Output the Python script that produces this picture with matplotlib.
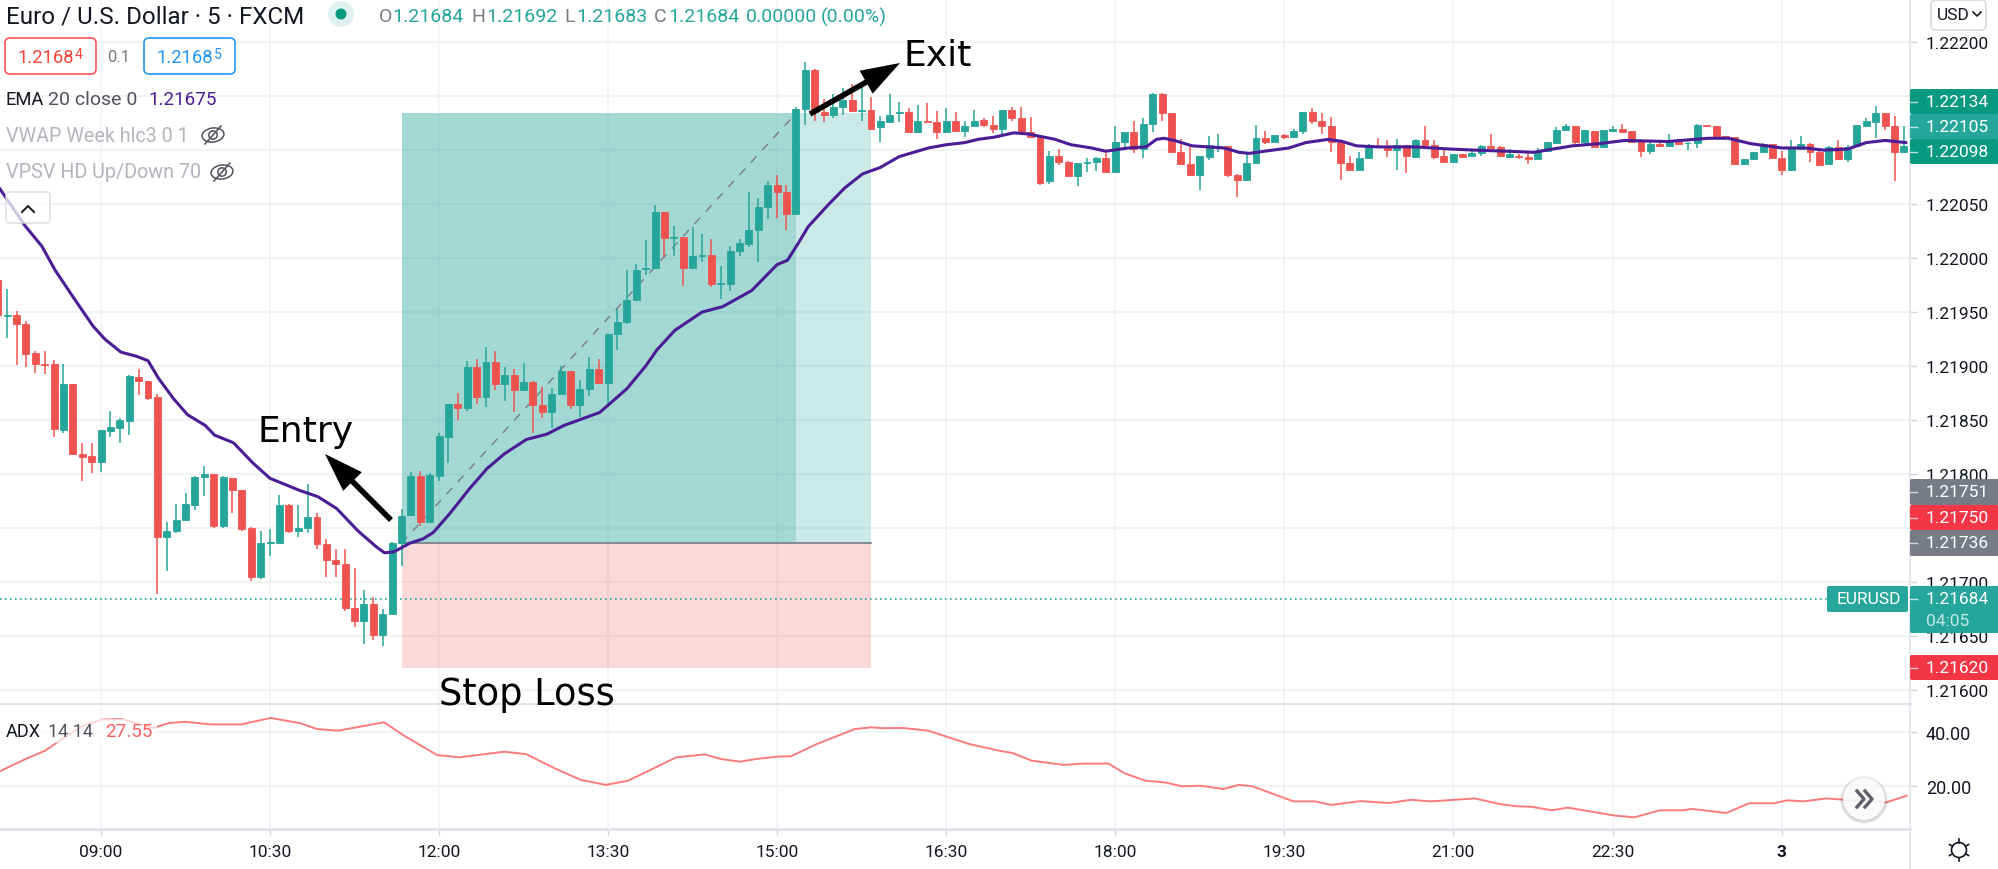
import matplotlib
matplotlib.use("Agg")
import matplotlib.pyplot as plt
import numpy as np
from matplotlib.patches import Circle, Ellipse, FancyBboxPatch, Rectangle

plt.rcParams['font.family'] = ['Roboto', 'DejaVu Sans']

# candles, in points above 1.21600 (bar 0 is the 09:00 bar)
BASE = 1.216
bar_start = -11

open_pts = [380, 346, 347, 339, 312, 302, 302, 241, 283, 219, 217,
            211, 240, 243, 249, 290, 286, 271, 142, 147, 157, 171, 197, 200, 152, 196, 185, 150, 105, 136, 136, 171,
            147, 150, 160, 135, 120, 117, 76, 64, 80, 51, 70, 136,
            162, 198, 156, 198, 234, 265, 261, 299, 271, 304, 283, 292, 278, 285, 264, 257, 274, 295, 264, 279, 297,
            284, 330, 341, 361, 390, 391, 443, 419, 420, 391, 402, 403, 376, 376, 407, 413, 426, 447, 468, 461, 441,
            538, 574, 535, 533, 540, 546, 536, 537, 521, 526, 534,
            535, 517, 527, 526, 517, 527, 518, 522, 528, 523, 520, 537, 530, 517, 513, 471, 495, 489, 476, 488, 489,
            493, 480, 508, 517, 501, 524, 552, 534, 498, 487, 477, 494, 504, 504, 477, 472, 488, 511, 508, 514, 512,
            518, 535, 527, 522, 508, 488, 482, 493, 504, 503, 500, 505, 494,
            509, 505, 495, 489, 496, 495, 497, 504, 503, 494, 495, 494, 492, 499, 507, 519, 522, 508, 518, 503, 518,
            520, 518, 509, 499, 506, 504, 508, 507, 507, 523, 522, 513, 512, 487, 492, 498, 506, 493, 482, 501, 506,
            498, 487, 503, 492, 504, 522, 526, 534, 522, 498]
high_pts = [382, 371, 351, 342, 314, 314, 306, 302, 283, 229, 229,
            241, 258, 252, 292, 297, 286, 274, 156, 172, 182, 198, 207, 200, 198, 196, 185, 151, 147, 149, 181, 172,
            171, 191, 164, 140, 131, 131, 113, 93, 86, 75, 137, 168,
            202, 203, 201, 238, 265, 275, 305, 307, 318, 314, 299, 297, 303, 286, 281, 280, 300, 295, 287, 308, 307,
            330, 353, 389, 395, 417, 449, 443, 430, 420, 429, 422, 418, 393, 411, 418, 461, 456, 471, 477, 468, 540,
            582, 575, 547, 552, 558, 561, 559, 549, 532, 552, 545,
            539, 542, 544, 536, 539, 535, 527, 537, 530, 532, 537, 540, 540, 531, 513, 499, 501, 490, 488, 493, 494,
            497, 522, 517, 527, 530, 553, 553, 534, 510, 503, 495, 513, 515, 504, 478, 498, 523, 518, 514, 515, 520,
            535, 539, 534, 531, 508, 495, 498, 506, 511, 509, 510, 505, 510,
            522, 509, 502, 496, 496, 500, 505, 515, 504, 501, 496, 497, 502, 508, 521, 524, 522, 519, 518, 519, 522,
            524, 518, 509, 509, 507, 515, 509, 508, 524, 523, 522, 513, 512, 492, 498, 507, 506, 499, 509, 513, 507,
            499, 504, 509, 505, 523, 530, 541, 534, 532, 522]
low_pts = [345, 326, 301, 299, 294, 293, 234, 238, 219, 194, 201,
           202, 234, 229, 236, 273, 269, 89, 110, 145, 157, 167, 180, 150, 150, 164, 147, 101, 103, 124, 136, 145,
           142, 145, 131, 105, 105, 73, 58, 43, 46, 41, 69, 115,
           161, 152, 156, 194, 210, 250, 258, 265, 262, 278, 268, 257, 278, 238, 252, 243, 274, 260, 253, 272, 284,
           264, 315, 339, 361, 384, 390, 401, 402, 374, 391, 396, 373, 362, 370, 402, 410, 396, 436, 437, 426, 441,
           523, 527, 526, 530, 533, 536, 527, 520, 508, 526, 526,
           516, 517, 526, 510, 517, 518, 512, 522, 521, 516, 512, 527, 516, 512, 468, 469, 486, 476, 467, 480, 481,
           480, 480, 500, 497, 493, 517, 527, 497, 486, 477, 463, 491, 498, 475, 457, 472, 488, 506, 507, 510, 511,
           515, 524, 515, 498, 472, 482, 482, 493, 503, 494, 482, 479, 494,
           504, 492, 489, 489, 494, 494, 495, 502, 494, 493, 492, 487, 492, 499, 506, 519, 506, 506, 503, 502, 517,
           516, 507, 494, 496, 503, 503, 505, 500, 502, 521, 512, 512, 487, 486, 491, 498, 493, 477, 481, 501, 489,
           486, 486, 491, 489, 503, 522, 511, 519, 471, 498]
close_pts = [347, 347, 339, 311, 302, 301, 242, 283, 219, 216, 211,
             241, 244, 250, 291, 286, 270, 142, 147, 157, 172, 197, 200, 152, 197, 185, 149, 105, 136, 137, 171, 147,
             150, 160, 135, 120, 117, 76, 64, 80, 51, 70, 136, 161,
             198, 156, 199, 235, 265, 261, 299, 271, 304, 283, 292, 278, 285, 264, 257, 274, 295, 264, 279, 297, 284,
             330, 341, 361, 389, 391, 443, 419, 420, 391, 402, 403, 376, 377, 407, 414, 426, 447, 468, 461, 441, 538,
             574, 535, 533, 540, 546, 536, 537, 520, 527, 533, 535,
             517, 527, 526, 517, 527, 518, 522, 527, 523, 520, 537, 530, 517, 512, 470, 495, 489, 476, 488, 489, 493,
             480, 508, 517, 501, 524, 552, 534, 498, 487, 477, 495, 505, 504, 477, 472, 488, 511, 508, 514, 512, 518,
             535, 527, 522, 508, 488, 482, 493, 505, 503, 500, 505, 495, 509,
             505, 494, 489, 496, 494, 497, 504, 502, 495, 496, 494, 492, 499, 508, 519, 522, 508, 519, 503, 519, 520,
             517, 508, 499, 506, 504, 508, 506, 507, 523, 522, 512, 512, 487, 492, 498, 506, 493, 482, 502, 506, 498,
             486, 503, 492, 503, 523, 527, 534, 522, 498, 504]

# EMA 20, read at these bars
ema_bars = [-10.76, -8.1, -6.3, -4.9, -2.9, -0.85, 0.4, 2.1, 3.8, 5.0, 6.1, 7.7, 9.2, 11.1, 12.1, 14.1, 16.2, 18,
            21.1, 23.1, 25.1, 27.4, 29.4, 30.2, 31.2, 32.9, 34.3, 35.4, 37.2, 39.2, 41.1, 43, 45.3, 47.5, 49.3, 53.1,
            56, 58, 59.2, 61.1, 64, 66.2, 69.3, 72, 73.1, 74.2, 75.3, 77.4, 79.2, 81.1, 83, 85, 88.1, 90, 92, 93.4,
            95.1, 97.2, 98.7, 99.9, 101.6, 103.3, 105.5, 107, 109.4, 111.3, 112.4, 113.2, 114.3, 116.2, 117.9, 119.6,
            121.2, 122.3, 123.9, 126.5, 128.3, 130.7, 132.2, 133.7, 136, 140, 143.7, 146.4, 149.7, 152.6, 154.6,
            156.7, 159.5, 162.3, 166.8, 171.2, 173.3, 175.7, 179, 181.5, 183.5, 186, 188, 190, 192.2]
ema_pts = [464, 430, 411, 389, 363, 337, 325, 313, 309, 305, 289, 270, 255, 245, 236, 229, 210, 196,
           185, 179, 168, 147, 132, 127, 128, 136, 140, 146, 164, 186, 205, 219, 232, 237, 245, 257,
           279, 300, 315, 333, 350, 355, 370, 394, 398, 413, 429, 449, 465, 478, 484, 494, 502, 505, 507, 510,
           512, 516, 515, 513, 510, 505, 502, 499, 502, 503, 510, 511, 509, 504, 503, 502,
           498, 497, 499, 502, 507, 510, 508, 504, 503, 503, 501, 500, 499, 498, 501,
           504, 506, 509, 508, 511, 511, 506, 502, 502, 500, 501, 507, 509, 507]

# ADX 14 14, read at these bars
adx_bars = [-10.76, -8.04, -6, -3.63, -1.93, 0.11, 2.15, 5.54, 7.24, 8.94, 11.66, 14.92, 18.04, 21.17, 23, 25.25,
            27.62, 30.14, 32.38, 35.77, 38.15, 42.9, 45.28, 48.34, 51.06, 53.77, 56.15, 58.53, 61.25, 64.3, 66, 68.04,
            69.74, 72.12, 73.48, 76.2, 80.27, 81.97, 83.33, 85.37, 88.09, 92.5, 95.76, 97.1, 99.1, 102.5, 104.6,
            107.3, 109, 111.2, 113.3, 115.1, 117.1, 119.5, 121.2, 122.6, 127, 129.3, 131, 134.1, 137.2, 139.5, 141.6,
            146.3, 149, 150.7, 152.4, 154.5, 156.2, 161.3, 163.3, 166, 168.4, 169.4, 173.1, 175.5, 178.2, 179.6,
            181.3, 183.7, 185.7, 190.1, 192.3]
adx_vals = [25.5, 30, 33, 38.6, 42.3, 44.6, 44.8, 41.5, 43.3, 43.8, 42.8, 42.8, 45.2, 43.3, 41.1, 40.5,
            42, 43.6, 38.4, 31.5, 30.6, 32.7, 31.8, 26.5, 22.3, 20.4, 22, 26, 30.6, 31.7, 30, 29,
            30, 30.9, 31, 35.5, 41.1, 41.7, 41.4, 41.5, 40.5, 35.5, 33, 32.2, 29.4, 27.8, 28.3,
            28.3, 24.7, 22, 21.3, 19.9, 20.1, 18.9, 20.4, 19.9, 14.3, 14.3, 13, 14.4, 13.7, 14.9, 14.3,
            15.4, 13.3, 12.5, 12.3, 11, 12, 9, 8.4, 11, 11, 11.5, 10, 13.6, 13.6, 14.7,
            14.3, 15.4, 14.9, 13.9, 16.4]

# axis
time_bars = [0, 18, 36, 54, 72, 90, 108, 126, 144, 161, 179]
time_labels = ['09:00', '10:30', '12:00', '13:30', '15:00', '16:30', '18:00', '19:30', '21:00', '22:30', '3']
price_ticks = [1.216, 1.2165, 1.217, 1.2175, 1.218, 1.2185, 1.219, 1.2195, 1.22, 1.2205, 1.221, 1.2215, 1.222]
adx_ticks = [20, 40]

# long position tool
pos_start, pos_now, pos_end = 32, 74, 82
entry_price, target_price, stop_price, last_price = 1.21736, 1.22134, 1.21620, 1.21684

TEAL = '#26a69a'
RED = '#ef5350'
GRID = '#f2f3f5'
BORDER = '#e0e3eb'
DARK = '#131722'
GREY = '#787b86'

opens = BASE + np.array(open_pts) * 1e-5
highs = BASE + np.array(high_pts) * 1e-5
lows = BASE + np.array(low_pts) * 1e-5
closes = BASE + np.array(close_pts) * 1e-5
bars = np.arange(bar_start, bar_start + len(opens))
colors = np.where(closes >= opens, TEAL, RED)

fig = plt.figure(figsize=(19.99, 8.7), dpi=100)
W, H = 1999.0, 870.0
ax = fig.add_axes([0, (H - 705) / H, 1910 / W, 705 / H])
ax_adx = fig.add_axes([0, (H - 830) / H, 1910 / W, 124 / H], sharex=ax)
over = fig.add_axes([0, 0, 1, 1], zorder=10)
over.set_xlim(0, W)
over.set_ylim(H, 0)
over.axis('off')

# price panel
ax.set_xlim(-10.76, 192.65)
ax.set_ylim(1.21587, 1.2224)
for x in time_bars:
    ax.axvline(x, color=GRID, lw=1.2, zorder=0)
    ax_adx.axvline(x, color=GRID, lw=1.2, zorder=0)
for p in price_ticks:
    ax.axhline(p, color=GRID, lw=1.5, zorder=0)

ax.add_patch(Rectangle((pos_start, entry_price), pos_end - pos_start, target_price - entry_price,
                       color=TEAL, alpha=0.24, lw=0, zorder=1))
ax.add_patch(Rectangle((pos_start, entry_price), pos_now - pos_start, target_price - entry_price,
                       color=TEAL, alpha=0.24, lw=0, zorder=1))
ax.add_patch(Rectangle((pos_start, stop_price), pos_end - pos_start, entry_price - stop_price,
                       color=RED, alpha=0.22, lw=0, zorder=1))
ax.plot([pos_start, pos_end], [entry_price, entry_price], color=GREY, lw=1.2, zorder=2)
ax.plot([pos_start, pos_now], [entry_price, target_price], color=GREY, lw=1, ls=(0, (6, 6)), zorder=2)
ax.axhline(last_price, color=TEAL, lw=1.2, ls=(0, (1, 2)), zorder=2)

ax.vlines(bars, lows, highs, colors=colors, lw=1.1, zorder=3)
ax.bar(bars, closes - opens, bottom=opens, width=0.74, color=colors, edgecolor=colors, lw=0.6, zorder=4)
ax.plot(ema_bars, BASE + np.array(ema_pts) * 1e-5, color='#4a1d96', lw=2.2, zorder=5)

ax.yaxis.tick_right()
ax.set_yticks(price_ticks)
ax.set_yticklabels(['%.5f' % p for p in price_ticks])
ax.tick_params(axis='y', length=5, width=1, color='#d1d4dc', pad=6.5, labelsize=12.5, labelcolor=DARK)
ax.tick_params(axis='x', length=0, labelbottom=False)
for s in ['top', 'left']:
    ax.spines[s].set_visible(False)
ax.spines['right'].set_color(BORDER)
ax.spines['right'].set_linewidth(1.2)
ax.spines['bottom'].set_color(BORDER)
ax.spines['bottom'].set_linewidth(2)

# ADX panel
ax_adx.set_ylim(4.07, 50)
for v in adx_ticks:
    ax_adx.axhline(v, color=GRID, lw=1.5, zorder=0)
ax_adx.plot(adx_bars, adx_vals, color='#fb7b7b', lw=1.4, zorder=3)
ax_adx.yaxis.tick_right()
ax_adx.set_yticks(adx_ticks)
ax_adx.set_yticklabels(['%.2f' % v for v in adx_ticks])
ax_adx.tick_params(axis='y', length=5, width=1, color='#d1d4dc', pad=6.5, labelsize=13, labelcolor=DARK)
ax_adx.set_xticks(time_bars)
ax_adx.set_xticklabels(time_labels)
ax_adx.tick_params(axis='x', length=4, width=1, color='#d1d4dc', pad=7, labelsize=12.5, labelcolor=DARK)
ax_adx.get_xticklabels()[-1].set_fontweight('bold')
for s in ['top', 'left']:
    ax_adx.spines[s].set_visible(False)
ax_adx.spines['right'].set_color(BORDER)
ax_adx.spines['right'].set_linewidth(1.2)
ax_adx.spines['bottom'].set_color(BORDER)
ax_adx.spines['bottom'].set_linewidth(2)
over.plot([1910, 1910], [830, 870], color=BORDER, lw=1.2)


def txt(x, y, s, color=DARK, size=13.5, **kw):
    over.text(x, y, s, color=color, fontsize=size, va='center', **kw)


def box(x0, y0, x1, y1, face, edge='none', r=3, lw=1.0, alpha=1.0):
    over.add_patch(FancyBboxPatch((x0, y0), x1 - x0, y1 - y0, boxstyle='round,pad=0,rounding_size=%g' % r,
                                  fc=face, ec=edge, lw=lw, alpha=alpha))


def eye(cx, cy):
    over.add_patch(Ellipse((cx, cy), 22, 14, angle=-8, fc='none', ec='#50535e', lw=1.1))
    over.add_patch(Circle((cx, cy), 4.2, fc='none', ec='#50535e', lw=1.1))
    over.plot([cx - 8, cx + 8], [cy + 9, cy - 9], color='#50535e', lw=1.1)


# header
txt(6, 17, 'Euro / U.S. Dollar · 5 · FXCM', size=17.4)
over.add_patch(Circle((341, 15), 13, fc='#e0f2f0', ec='none'))
over.add_patch(Circle((341, 15), 5.5, fc='#089981', ec='none'))
for x, letter in zip([379, 471, 564, 654], 'OHLC'):
    txt(x, 17, letter, color=GREY, size=14)
for x, val in zip([392, 486, 576, 668], ['1.21684', '1.21692', '1.21683', '1.21684']):
    txt(x, 17, val, color=TEAL, size=14)
txt(746, 17, '0.00000', color=TEAL, size=14)
txt(821, 17, '(0.00%)', color=TEAL, size=14)

# bid and ask boxes
box(5, 39, 96, 75, 'white', edge='#f7525f', r=5, lw=1.2)
txt(18, 58, '1.2168', color='#f44336', size=13.2)
txt(75, 55, '4', color='#f44336', size=10)
txt(107, 58, '0.1', color=GREY, size=12)
box(144, 39, 235, 75, 'white', edge='#2196f3', r=5, lw=1.2)
txt(157, 58, '1.2168', color='#2196f3', size=13.2)
txt(214, 55, '5', color='#2196f3', size=10)

# indicator legend
txt(6, 100, 'EMA', size=13.2)
txt(48, 100, '20 close 0', color='#50535e', size=14)
txt(148, 100, '1.21675', color='#4a1d96', size=13.5)
txt(6, 136, 'VWAP Week hlc3 0 1', color='#b2b5be', size=14.2)
eye(213, 136)
txt(6, 173, 'VPSV HD Up/Down 70', color='#b2b5be', size=14.2)
eye(222, 173)
box(6, 193, 50, 224, 'white', edge='#d6d8df', r=3, lw=1.2, alpha=0.75)
over.plot([22, 28, 34], [213, 207, 213], color=DARK, lw=1.4)

# USD button
box(1931, 1, 1986, 31, 'white', edge='#d6d8df', r=5, lw=1.2)
txt(1937, 15, 'USD', size=12.5)
over.plot([1973, 1977, 1981], [13, 17, 13], color=DARK, lw=1.2)

# price tags
tags = [(1.22134, 90, 115, '#089981'), (1.22105, 115, 140, TEAL), (1.22098, 140, 165, '#089981'),
        (1.21751, 480, 506, GREY), (1.21750, 506, 531, '#f23645'), (1.21736, 531, 557, GREY),
        (1.21620, 656, 681, '#f23645')]
for val, y0, y1, col in tags:
    box(1910, y0, 1999, y1, col, r=2)
    txt(1926, (y0 + y1) / 2, '%.5f' % val, color='white', size=12.5)
    over.plot([1910, 1917], [(y0 + y1) / 2] * 2, color='white', lw=1, alpha=0.7)
box(1827, 587, 1908, 613, TEAL, r=2)
txt(1837, 600, 'EURUSD', color='white', size=12.5)
box(1910, 587, 1999, 634, TEAL, r=2)
txt(1926, 600, '%.5f' % last_price, color='white', size=12.5)
txt(1926, 622, '04:05', color='#c3e8e4', size=12.5)
over.plot([1910, 1917], [600, 600], color='white', lw=1, alpha=0.7)

# ADX legend, semi transparent over the line
over.add_patch(Rectangle((4, 720), 153, 24, fc='white', ec='none', alpha=0.7))
txt(6, 732, 'ADX', size=13)
txt(48, 732, '14 14', color='#50535e', size=13)
txt(105, 732, '27.55', color='#fb5f5f', size=13.5)

# scroll button
for r, a in [(24, 0.05), (23, 0.06), (22, 0.08)]:
    over.add_patch(Circle((1864, 801), r, fc='#000000', ec='none', alpha=a))
over.add_patch(Circle((1864, 800), 21, fc='white', ec='none', alpha=0.9))
over.plot([1857, 1864, 1857], [792, 800, 808], color='#5d606b', lw=2.4)
over.plot([1865, 1872, 1865], [792, 800, 808], color='#5d606b', lw=2.4)

# settings icon
over.add_patch(Circle((1959, 851), 7.5, fc='none', ec=DARK, lw=1.2))
for a in np.deg2rad([30, 90, 150, 210, 270, 330]):
    over.plot([1959 + 7.5 * np.cos(a), 1959 + 11 * np.cos(a)], [851 + 7.5 * np.sin(a), 851 + 11 * np.sin(a)],
              color=DARK, lw=1.2)

# hand annotations
big = ['DejaVu Sans']
over.text(306, 432, 'Entry', color='black', fontsize=26, family=big, ha='center', va='center')
over.text(938, 56, 'Exit', color='black', fontsize=26, family=big, ha='center', va='center')
over.text(527, 695, 'Stop Loss', color='black', fontsize=26.5, family=big, ha='center', va='center')
arrow = dict(facecolor='black', edgecolor='black', width=4, headwidth=19, headlength=28, shrink=0, lw=0)
over.annotate('', xy=(325, 455), xytext=(391, 521), arrowprops=arrow)
over.annotate('', xy=(900, 64), xytext=(810, 115), arrowprops=arrow)

fig.savefig('out.png', dpi=100)
